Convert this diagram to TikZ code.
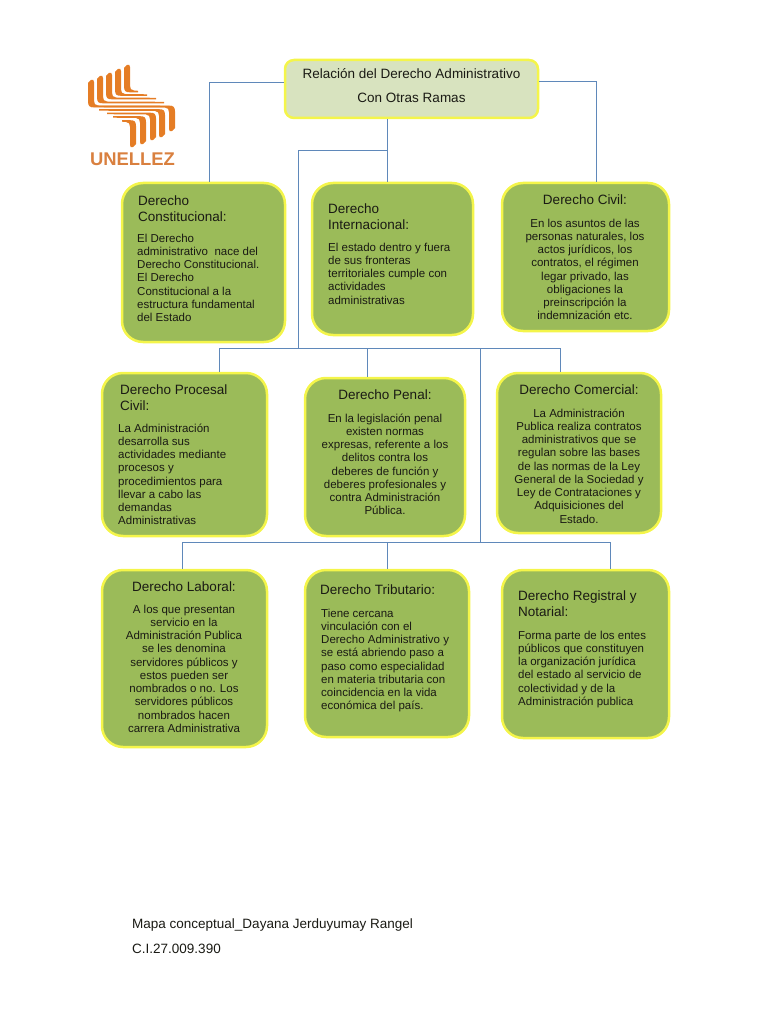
\documentclass[tikz,border=0pt]{standalone}
\usepackage{fontspec}
\setmainfont{Liberation Sans}
\definecolor{ramagreen}{HTML}{9BBB59}
\definecolor{rootgreen}{HTML}{D8E3BF}
\definecolor{ramayellow}{HTML}{F4F54A}
\definecolor{connblue}{HTML}{5F88BA}
\definecolor{logoorange}{HTML}{E57D25}
\definecolor{logotext}{HTML}{D9803F}
\definecolor{inktext}{HTML}{1A1A14}
\tikzset{
  ramabox/.style={draw=ramayellow,fill=ramagreen,line width=2.5pt,rounded corners=21pt,inner sep=0pt},
  rootbox/.style={draw=ramayellow,fill=rootgreen,line width=2.5pt,rounded corners=9pt,inner sep=0pt},
  conn/.style={draw=connblue,line width=1pt},
  titulo/.style={inner sep=0pt,text=inktext,font=\fontsize{13.5}{15.4}\selectfont},
  cuerpo/.style={inner sep=0pt,text=inktext,font=\fontsize{11.5}{13.25}\selectfont},
}
\begin{document}
\begin{tikzpicture}[x=1pt,y=-1pt]
\useasboundingbox (0,0) rectangle (768,1024);
% boxes
\node[rootbox,minimum width=253pt,minimum height=58pt] (root) at (411.5,89) {};
\node[ramabox,minimum width=163pt,minimum height=159pt] (constitucional) at (203.5,262.5) {};
\node[ramabox,minimum width=161pt,minimum height=152pt] (internacional) at (392.5,259) {};
\node[ramabox,minimum width=167pt,minimum height=148pt] (civil) at (585.5,257) {};
\node[ramabox,minimum width=165pt,minimum height=163pt] (procesal) at (184.5,454.5) {};
\node[ramabox,minimum width=160pt,minimum height=158pt] (penal) at (385,457) {};
\node[ramabox,minimum width=164pt,minimum height=160pt] (comercial) at (579,453) {};
\node[ramabox,minimum width=165pt,minimum height=177pt] (laboral) at (184.5,658.5) {};
\node[ramabox,minimum width=164pt,minimum height=167pt] (tributario) at (387,653.5) {};
\node[ramabox,minimum width=167pt,minimum height=168pt] (registral) at (585.5,654) {};
% connectors
\coordinate (izq) at (209,83);
\coordinate (der) at (596,82);
\coordinate (centro) at (387,151);
\coordinate (codo) at (298,151);
\coordinate (fila) at (298,348);
\coordinate (filaizq) at (219,348);
\coordinate (filapenal) at (367,348);
\coordinate (filabaja) at (480,348);
\coordinate (filader) at (560,348);
\coordinate (pie) at (480,542);
\coordinate (pieizq) at (182,542);
\coordinate (pieder) at (610,542);
\draw[conn] (root.west |- izq) -- (izq) -- (izq |- constitucional.north);
\draw[conn] (root.east |- der) -- (der) -- (der |- civil.north);
\draw[conn] (root.south -| centro) -- (centro |- internacional.north);
\draw[conn] (centro) -- (codo) -- (fila);
\draw[conn] (filaizq) -- (filader);
\draw[conn] (filaizq) -- (filaizq |- procesal.north);
\draw[conn] (filapenal) -- (filapenal |- penal.north);
\draw[conn] (filader) -- (filader |- comercial.north);
\draw[conn] (filabaja) -- (pie);
\draw[conn] (pieizq) -- (pieder);
\draw[conn] (pieizq) -- (pieizq |- laboral.north);
\draw[conn] (pie -| tributario.north) -- (tributario.north);
\draw[conn] (pieder) -- (pieder |- registral.north);
% logo
\foreach \vx/\vtop/\hy/\hx in {91/81/106.5/172,100/77/102.5/164,109/74/98.5/156,118/70/95/147,127/66/91.5/138}
  \fill[logoorange] (\vx-3,\vtop+2) -- (\vx-3,\hy-5) .. controls (\vx-3,\hy) and (\vx-1,\hy+.8) .. (\vx+3,\hy+.8) -- (\hx,\hy+.8) -- (\hx,\hy-.7) -- (\vx+7,\hy-1) .. controls (\vx+4,\hy-1) and (\vx+3,\hy-3) .. (\vx+3,\hy-6) -- (\vx+3,\vtop+1) .. controls (\vx+3,\vtop-1) and (\vx+2,\vtop-2) .. (\vx,\vtop-1) -- cycle;
\foreach \vx/\vbot/\hy/\hx in {172/130/106.5/91,162/136/110/99,153/139/113.5/107,143/143/117/113,133/146/121/122}
  \fill[logoorange] (\vx+3,\vbot-2) -- (\vx+3,\hy+5) .. controls (\vx+3,\hy) and (\vx+1,\hy-.8) .. (\vx-3,\hy-.8) -- (\hx,\hy-.8) -- (\hx,\hy+.7) -- (\vx-7,\hy+1) .. controls (\vx-4,\hy+1) and (\vx-3,\hy+3) .. (\vx-3,\hy+6) -- (\vx-3,\vbot-1) .. controls (\vx-3,\vbot+1) and (\vx-2,\vbot+2) .. (\vx,\vbot+1) -- cycle;
\node[inner sep=0pt,text=logotext,font=\fontsize{18.4}{20}\selectfont\bfseries] (logo) at (132.5,159.5) {UNELLEZ};
% titles and text
\node[titulo,align=center] (roottxt) at (411.5,85.5) {Relación del Derecho Administrativo\\[8.5pt]Con Otras Ramas};
\node[titulo,align=left,anchor=north west] (t1) at (138,196) {Derecho\\Constitucional:};
\node[cuerpo,align=left,anchor=north west] (c1) at (137,233.5) {El Derecho\\administrativo~ nace del\\Derecho Constitucional.\\El Derecho\\Constitucional a la\\estructura fundamental\\del Estado};
\node[titulo,align=left,anchor=north west] (t2) at (328,204) {Derecho\\Internacional:};
\node[cuerpo,align=left,anchor=north west] (c2) at (328,242.5) {El estado dentro y fuera\\de sus fronteras\\territoriales cumple con\\actividades\\administrativas};
\node[titulo,align=center,anchor=north] (t3) at (585,195) {Derecho Civil:};
\node[cuerpo,align=center,anchor=north] (c3) at (585,218.5) {En los asuntos de las\\personas naturales, los\\actos jurídicos, los\\contratos, el régimen\\legar privado, las\\obligaciones la\\preinscripción la\\indemnización etc.};
\node[titulo,align=left,anchor=north west] (t4) at (120,385) {Derecho Procesal\\Civil:};
\node[cuerpo,align=left,anchor=north west] (c4) at (118,423.5) {La Administración\\desarrolla sus\\actividades mediante\\procesos y\\procedimientos para\\llevar a cabo las\\demandas\\Administrativas};
\node[titulo,align=center,anchor=north] (t5) at (385,390) {Derecho Penal:};
\node[cuerpo,align=center,anchor=north] (c5) at (385,413.5) {En la legislación penal\\existen normas\\expresas, referente a los\\delitos contra los\\deberes de función y\\deberes profesionales y\\contra Administración\\Pública.};
\node[titulo,align=center,anchor=north] (t6) at (579,385) {Derecho Comercial:};
\node[cuerpo,align=center,anchor=north] (c6) at (579,408.5) {La Administración\\Publica realiza contratos\\administrativos que se\\regulan sobre las bases\\de las normas de la Ley\\General de la Sociedad y\\Ley de Contrataciones y\\Adquisiciones del\\Estado.};
\node[titulo,align=center,anchor=north] (t7) at (184,582) {Derecho Laboral:};
\node[cuerpo,align=center,anchor=north] (c7) at (184,604.5) {A los que presentan\\servicio en la\\Administración Publica\\se les denomina\\servidores públicos y\\estos pueden ser\\nombrados o no. Los\\servidores públicos\\nombrados hacen\\carrera Administrativa};
\node[titulo,align=left,anchor=north west] (t8) at (320,585) {Derecho Tributario:};
\node[cuerpo,align=left,anchor=north west] (c8) at (321,608.5) {Tiene cercana\\vinculación con el\\Derecho Administrativo y\\se está abriendo paso a\\paso como especialidad\\en materia tributaria con\\coincidencia en la vida\\económica del país.};
\node[titulo,align=left,anchor=north west] (t9) at (518,591) {Derecho Registral y\\Notarial:};
\node[cuerpo,align=left,anchor=north west] (c9) at (518,630.5) {Forma parte de los entes\\públicos que constituyen\\la organización jurídica\\del estado al servicio de\\colectividad y de la\\Administración publica};
% footer
\node[titulo,anchor=west] (mapa) at (132,925) {Mapa conceptual\_Dayana Jerduyumay Rangel};
\node[titulo,anchor=west] (ci) at (132,949) {C.I.27.009.390};
\end{tikzpicture}
\end{document}
